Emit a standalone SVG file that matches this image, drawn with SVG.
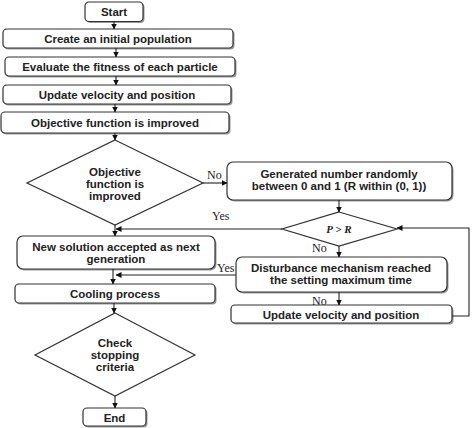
<svg xmlns="http://www.w3.org/2000/svg" width="474" height="428" viewBox="0 0 474 428">
<defs>
<marker id="ah" markerWidth="6" markerHeight="6" refX="5.5" refY="3" orient="auto" markerUnits="userSpaceOnUse">
<path d="M0,0 L6,3 L0,6 Z" fill="#111"/>
</marker>
</defs>
<style>
.box{fill:#fff;stroke:#333;stroke-width:1.2}
.sh{fill:#999;stroke:none}
.dia{fill:#fff;stroke:#333;stroke-width:1.2}
.t{font-family:"Liberation Sans",Arial,sans-serif;font-weight:bold;font-size:11.5px;fill:#222;text-anchor:middle}
.l{font-family:"Liberation Serif","Times New Roman",serif;font-size:12px;fill:#222}
.c{fill:none;stroke:#222;stroke-width:1.1}
</style>
<rect width="474" height="428" fill="#fff"/>
<g id="start"><rect class="sh" x="86.5" y="3.5" width="58" height="19.5" rx="4"/><rect class="box" x="85" y="2" width="58" height="19.5" rx="4"/><text class="t" x="114" y="16">Start</text></g>
<g id="create"><rect class="sh" x="4.5" y="30.5" width="230" height="19" rx="4"/><rect class="box" x="3" y="29" width="230" height="19" rx="4"/><text class="t" x="118" y="42.5">Create an initial population</text></g>
<g id="evaluate"><rect class="sh" x="6.5" y="58.5" width="230" height="19" rx="4"/><rect class="box" x="5" y="57" width="230" height="19" rx="4"/><text class="t" x="120" y="70.5">Evaluate the fitness of each particle</text></g>
<g id="update1"><rect class="sh" x="4.5" y="86.5" width="228" height="19" rx="4"/><rect class="box" x="3" y="85" width="228" height="19" rx="4"/><text class="t" x="117" y="98.5">Update velocity and position</text></g>
<g id="objbox"><rect class="sh" x="2.5" y="113.5" width="228" height="21" rx="4"/><rect class="box" x="1" y="112" width="228" height="21" rx="4"/><text class="t" x="115" y="126.5">Objective function is improved</text></g>
<g id="dec1"><polygon class="dia" points="115,140 203,183 115,225 27,183"/><text class="t" x="115" y="176">Objective</text><text class="t" x="115" y="188">function is</text><text class="t" x="115" y="200">improved</text></g>
<g id="gen"><rect class="sh" x="228.5" y="163.5" width="225" height="38" rx="6"/><rect class="box" x="227" y="162" width="225" height="38" rx="6"/><text class="t" x="339" y="177.5">Generated number randomly</text><text class="t" x="339" y="189.5">between 0 and 1 (R within (0, 1))</text></g>
<g id="dec2"><polygon class="dia" points="339,212 397,229 339,246 282,229"/><text x="339" y="233" style="font-family:'Liberation Serif',serif;font-weight:bold;font-style:italic;font-size:11px;fill:#222;text-anchor:middle">P &gt; R</text></g>
<g id="newsol"><rect class="sh" x="18.5" y="237.5" width="198" height="33" rx="6"/><rect class="box" x="17" y="236" width="198" height="33" rx="6"/><text class="t" x="116" y="251">New solution accepted as next</text><text class="t" x="116" y="263">generation</text></g>
<g id="disturb"><rect class="sh" x="237.5" y="258.5" width="211" height="35" rx="6"/><rect class="box" x="236" y="257" width="211" height="35" rx="6"/><text class="t" x="341" y="271.5">Disturbance mechanism reached</text><text class="t" x="341" y="283.5">the setting maximum time</text></g>
<g id="cooling"><rect class="sh" x="16.5" y="285.5" width="200" height="19" rx="4"/><rect class="box" x="15" y="284" width="200" height="19" rx="4"/><text class="t" x="115" y="297.5">Cooling process</text></g>
<g id="update2"><rect class="sh" x="232.5" y="306.5" width="221" height="18" rx="4"/><rect class="box" x="231" y="305" width="221" height="18" rx="4"/><text class="t" x="341" y="318.5">Update velocity and position</text></g>
<g id="dec3"><polygon class="dia" points="115,313 195,355 115,396 35,355"/><text class="t" x="115" y="347">Check</text><text class="t" x="115" y="359">stopping</text><text class="t" x="115" y="371">criteria</text></g>
<g id="end"><rect class="sh" x="84.5" y="409.5" width="63" height="18" rx="4"/><rect class="box" x="83" y="408" width="63" height="18" rx="4"/><text class="t" x="114.5" y="421.5">End</text></g>
<g id="connectors">
<line class="c" x1="114" y1="21.5" x2="114" y2="29" marker-end="url(#ah)"/>
<line class="c" x1="116" y1="48" x2="116" y2="57" marker-end="url(#ah)"/>
<line class="c" x1="116" y1="76" x2="116" y2="85" marker-end="url(#ah)"/>
<line class="c" x1="115" y1="104" x2="115" y2="112" marker-end="url(#ah)"/>
<line class="c" x1="115" y1="133" x2="115" y2="140" marker-end="url(#ah)"/>
<line class="c" x1="203" y1="183" x2="227" y2="183" marker-end="url(#ah)"/>
<line class="c" x1="339" y1="200" x2="339" y2="212" marker-end="url(#ah)"/>
<line class="c" x1="115" y1="225" x2="115" y2="236" marker-end="url(#ah)"/>
<line class="c" x1="282" y1="229" x2="116" y2="229" marker-end="url(#ah)"/>
<line class="c" x1="339" y1="246" x2="339" y2="257" marker-end="url(#ah)"/>
<line class="c" x1="236" y1="275" x2="116" y2="275" marker-end="url(#ah)"/>
<line class="c" x1="113" y1="269" x2="113" y2="284" marker-end="url(#ah)"/>
<line class="c" x1="339" y1="292" x2="339" y2="305" marker-end="url(#ah)"/>
<polyline class="c" points="452,316 469,316 469,228 397,228" marker-end="url(#ah)"/>
<line class="c" x1="114" y1="303" x2="114" y2="313" marker-end="url(#ah)"/>
<line class="c" x1="115" y1="396" x2="115" y2="408" marker-end="url(#ah)"/>
</g>
<g id="labels">
<text class="l" x="207" y="179">No</text>
<text class="l" x="212" y="220">Yes</text>
<text class="l" x="312" y="252">No</text>
<text class="l" x="217" y="272">Yes</text>
<text class="l" x="312" y="305">No</text>
</g>
</svg>
